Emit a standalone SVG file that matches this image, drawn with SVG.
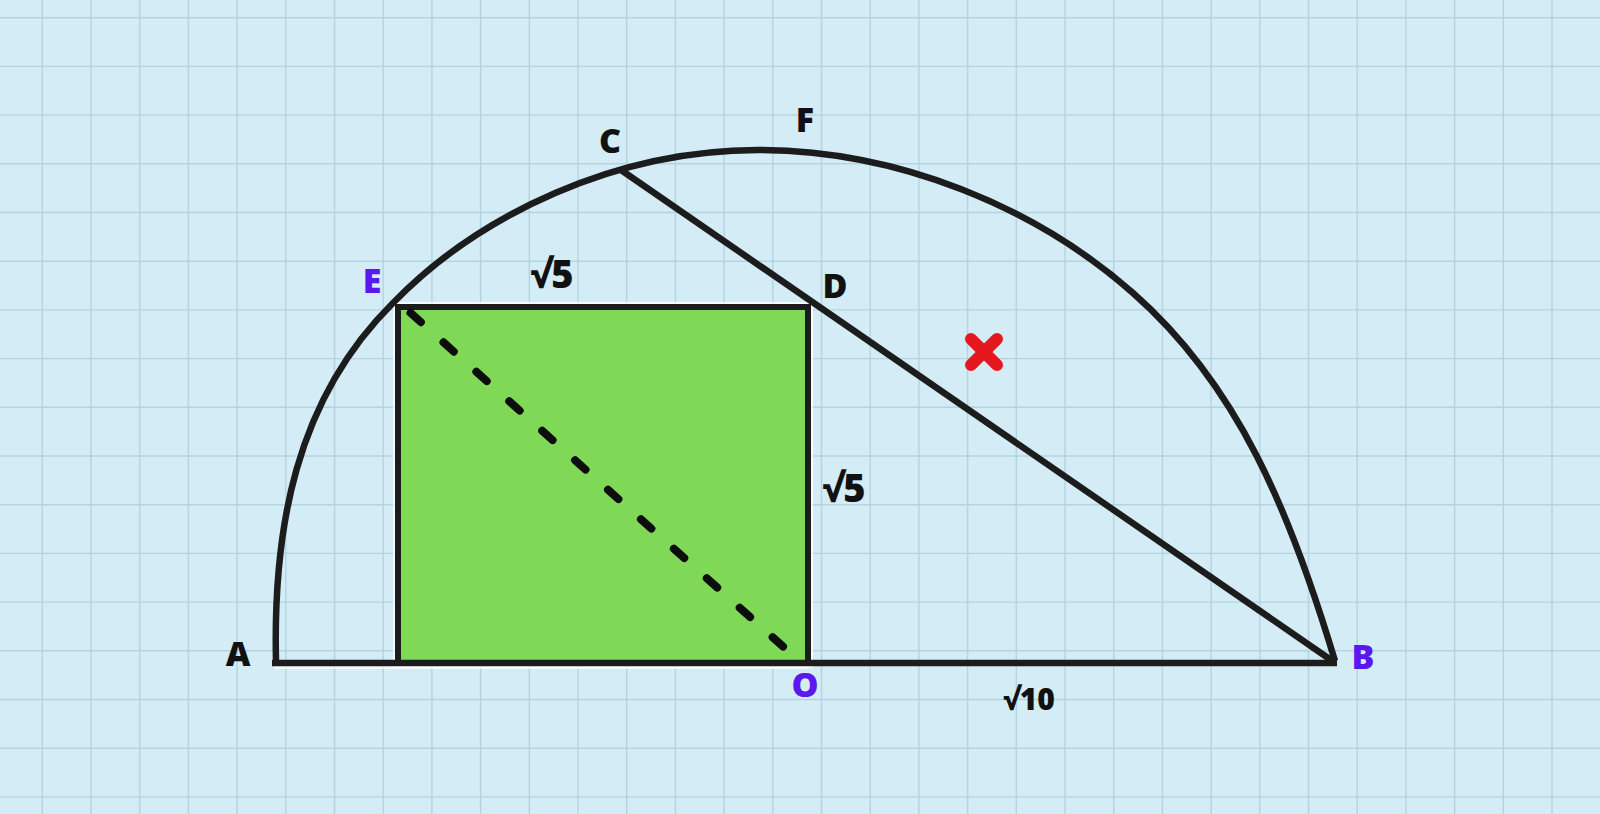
<svg xmlns="http://www.w3.org/2000/svg" width="1600" height="814" viewBox="0 0 1600 814">
<style>
.grid{stroke:#b4d3e1;stroke-width:1.4;fill:none}
.ink{stroke:#1c1c1c;stroke-width:6.5;fill:none;stroke-linejoin:round}
.lbl{font-family:"Open Sans","Liberation Sans",sans-serif;font-weight:800;font-size:34px;fill:#111;text-anchor:middle}
.pt{fill:#5b16f2}
.len{font-size:38px}
</style>
<rect width="1600" height="814" fill="#d3ecf5"/>
<g id="grid">
<path class="grid" d="M42.3 0V814M91 0V814M139.7 0V814M188.4 0V814M237.1 0V814M285.8 0V814M334.5 0V814M383.2 0V814M431.9 0V814M480.6 0V814M529.3 0V814M578 0V814M626.7 0V814M675.4 0V814M724.1 0V814M772.8 0V814M821.5 0V814M870.2 0V814M918.9 0V814M967.6 0V814M1016.3 0V814M1065 0V814M1113.7 0V814M1162.4 0V814M1211.1 0V814M1259.8 0V814M1308.5 0V814M1357.2 0V814M1405.9 0V814M1454.6 0V814M1503.3 0V814M1552 0V814M0 17.7H1600M0 66.4H1600M0 115.1H1600M0 163.8H1600M0 212.5H1600M0 261.2H1600M0 309.9H1600M0 358.6H1600M0 407.3H1600M0 456H1600M0 504.7H1600M0 553.4H1600M0 602.1H1600M0 650.8H1600M0 699.5H1600M0 748.2H1600M0 796.9H1600"/>
</g>
<g id="square">
<rect x="398" y="307" width="410" height="356" fill="none" stroke="#ffffff" stroke-opacity="0.8" stroke-width="10"/>
<rect x="398" y="307" width="410" height="356" fill="#7fd957" stroke="#1c1c1c" stroke-width="6"/>
</g>
<g id="connectors">
<path id="arc" class="ink" stroke-width="7" d="M276 661C273 530 295 400 393 303C480.5 213 618 150 758 150C898 150 1035.5 207 1133 293C1238 385.4 1290 511 1335 661"/>
<line id="base-halo" x1="274" y1="665" x2="808" y2="665" stroke="#ffffff" stroke-opacity="0.7" stroke-width="8"/>
<line id="AB" class="ink" x1="272" y1="663" x2="1337" y2="663"/>
<line id="CB" class="ink" x1="621" y1="170" x2="1331" y2="660"/>
<line id="EO" x1="410.5" y1="312.8" x2="783.5" y2="647" stroke="#0d0d0d" stroke-width="8" stroke-linecap="round" stroke-dasharray="14 30.2"/>
</g>
<g id="cross">
<path d="M971 339L997 365M997 339L971 365" stroke="#e5181f" stroke-width="12" stroke-linecap="round" fill="none"/>
</g>
<g id="labels">
<text id="lbl-C" class="lbl" x="610" y="153">C</text>
<text id="lbl-F" class="lbl" x="805" y="132">F</text>
<text id="lbl-E" class="lbl pt" x="372" y="293">E</text>
<text id="lbl-D" class="lbl" x="835" y="298">D</text>
<text id="lbl-A" class="lbl" x="238" y="666">A</text>
<text id="lbl-O" class="lbl pt" x="805" y="697">O</text>
<text id="lbl-B" class="lbl pt" x="1363" y="669">B</text>
<text id="lbl-ED" class="lbl len" x="552" y="288">√5</text>
<text id="lbl-DO" class="lbl len" x="844" y="502">√5</text>
<text id="lbl-OB" class="lbl" style="font-size:30px" x="1029" y="710">√10</text>
</g>
</svg>
